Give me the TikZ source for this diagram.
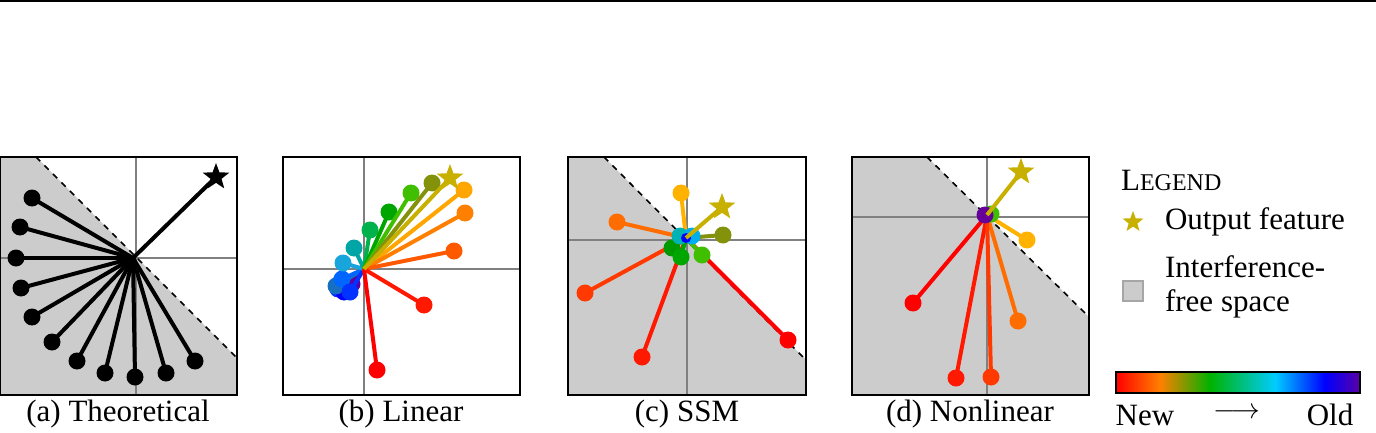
\documentclass[tikz,border=0pt]{standalone}
\usepackage{fontspec}
\setmainfont{Liberation Serif}
\usetikzlibrary{shapes.geometric}
\definecolor{gfill}{HTML}{CCCCCC}
\definecolor{olv}{HTML}{C8B000}
\tikzset{
 spk/.style={line width=2pt},
 dot/.style={circle,inner sep=0pt,minimum size=8.5pt},
 frame/.style={draw=black,line width=1pt},
 gridl/.style={draw=gray,line width=0.7pt},
 dsh/.style={dashed,line width=0.8pt},
 starn/.style={star,star points=5,star point ratio=2.4,inner sep=0pt,minimum size=14pt},
 captxt/.style={font=\fontsize{15.5}{17}\selectfont},
}
\newcommand\spoke[4]{\draw[spk,#4] (#1) -- (#2) node[dot,fill=#4] (#3) {};}
\begin{document}
\begin{tikzpicture}[x=0.5pt,y=-0.5pt]
\useasboundingbox (0,0) rectangle (1376,433);
\draw[line width=0.6pt] (0,1) -- (1376,1);
% ---------- panel a
\fill[gfill] (0,157) -- (36,157) -- (237,358) -- (237,395) -- (0,395) -- cycle;
\draw[gridl] (136,157) -- (136,395) (0,258) -- (237,258);
\draw[dsh] (36,157) -- (237,358);
\coordinate (ca) at (133,258);
\foreach \p [count=\i] in {(32,198),(20,227),(16,258),(21,288),(32,317),(52,342),(77,361),(105,373),(135,377),(166,373),(195,361)}
 {\draw[spk] (ca) -- \p node[dot,fill=black] (a\i) {};}
\draw[spk] (ca) -- (216,177) node[starn,fill=black,pos=1] (astar) {};
\draw[frame] (0,157) rectangle (237,395);
\node[captxt] (capa) at (118,414) {(a) Theoretical};
% ---------- panel b
\draw[gridl] (364,157) -- (364,395) (283,269) -- (520,269);
\coordinate (cb) at (364,269);
\foreach \x/\y/\c in {340/283/blue!70!cyan,338/289/blue!80!cyan,344/292/blue,348/288/blue!80!violet,352/284/violet!70!blue,336/286/cyan!50!blue,342/279/blue!60!cyan,350/292/blue!80!cyan}
 {\draw[spk,\c] (cb) -- (\x,\y) node[dot,fill=\c] {};}
\spoke{cb}{343,263}{b12}{cyan!80!teal}
\spoke{cb}{354,248}{b11}{teal!70!cyan}
\spoke{cb}{370,230}{b10}{teal!60!green}
\spoke{cb}{389,212}{b9}{green!65!black}
\spoke{cb}{411,193}{b8}{green!50!olive}
\spoke{cb}{432,183}{b7}{olive!80!green}
\spoke{cb}{464,190}{b5}{orange!70!yellow}
\spoke{cb}{465,213}{b4}{orange}
\spoke{cb}{454,251}{b3}{orange!70!red}
\spoke{cb}{424,305}{b2}{red!80!orange}
\spoke{cb}{377,370}{b1}{red}
\draw[spk,olv] (cb) -- (450,178) node[starn,fill=olv,pos=1] (bstar) {};
\draw[frame] (283,157) rectangle (520,395);
\node[captxt] (capb) at (401,414) {(b) Linear};
% ---------- panel c
\fill[gfill] (568,157) -- (604,157) -- (806,360) -- (806,395) -- (568,395) -- cycle;
\draw[gridl] (687,157) -- (687,395) (568,240) -- (806,240);
\draw[dsh] (604,157) -- (806,360);
\coordinate (cc) at (686,238);
\spoke{cc}{617,222}{c3}{orange!85!red}
\spoke{cc}{681,193}{c2}{orange!60!yellow}
\spoke{cc}{723,235}{c4}{olive!80!green}
\spoke{cc}{585,293}{c5}{red!55!orange}
\spoke{cc}{642,357}{c6}{red!80!orange}
\spoke{cc}{788,340}{c7}{red}
\spoke{cc}{672,248}{c8}{green!60!black}
\spoke{cc}{681,257}{c9}{green!65!black}
\spoke{cc}{702,255}{c10}{green!50!olive}
\spoke{cc}{680,236}{c11}{teal!60!cyan}
\spoke{cc}{692,236}{c12}{cyan}
\node[circle,fill=blue,inner sep=0pt,minimum size=5pt] (c13) at (cc) {};
\draw[spk,olv] (cc) -- (722,207) node[starn,fill=olv,pos=1] (cstar) {};
\draw[frame] (568,157) rectangle (806,395);
\node[captxt] (capc) at (687,414) {(c) SSM};
% ---------- panel d
\fill[gfill] (852,157) -- (927,157) -- (1089,317) -- (1089,395) -- (852,395) -- cycle;
\draw[gridl] (987,157) -- (987,395) (852,217) -- (1089,217);
\draw[dsh] (927,157) -- (1089,317);
\coordinate (cd) at (987,215);
\spoke{cd}{1027,240}{d2}{orange!60!yellow}
\spoke{cd}{1018,321}{d3}{orange!85!red}
\spoke{cd}{913,303}{d4}{red}
\spoke{cd}{956,378}{d5}{red!80!orange}
\spoke{cd}{991,377}{d6}{red!55!orange}
\node[dot,fill=green!50!olive] (d7) at (991,214) {};
\node[dot,fill=violet!80!blue] (d8) at (985,215) {};
\draw[spk,olv] (cd) -- (1021,172) node[starn,fill=olv,pos=1] (dstar) {};
\draw[frame] (852,157) rectangle (1089,395);
\node[captxt] (capd) at (970,414) {(d) Nonlinear};
% ---------- legend
\node[captxt,anchor=west] (lg) at (1114,180) {L\fontsize{12}{13}\selectfont EGEND};
\node[starn,fill=olv,minimum size=11pt] (ls) at (1133,222) {};
\node[captxt,anchor=west] (lo) at (1158,222) {Output feature};
\node[draw=gray!70,fill=gfill,line width=1pt,minimum size=10pt,inner sep=0pt] (lq) at (1133,291) {};
\node[captxt,anchor=west,align=left] (li) at (1158,287) {Interference-\\free space};
\shade[left color=red,right color=orange] (1116,372) rectangle (1160,393);
\shade[left color=orange,right color=green!70!black] (1160,372) rectangle (1210,393);
\shade[left color=green!70!black,right color=cyan!80!blue] (1210,372) rectangle (1275,393);
\shade[left color=cyan!80!blue,right color=blue] (1275,372) rectangle (1325,393);
\shade[left color=blue,right color=violet!70!blue] (1325,372) rectangle (1360,393);
\draw[line width=1pt] (1116,372) rectangle (1360,393);
\node[captxt] (ln) at (1145,415) {New};
\node[captxt] (la) at (1237,413) {$\longrightarrow$};
\node[captxt] (lo2) at (1330,415) {Old};
\end{tikzpicture}
\end{document}
